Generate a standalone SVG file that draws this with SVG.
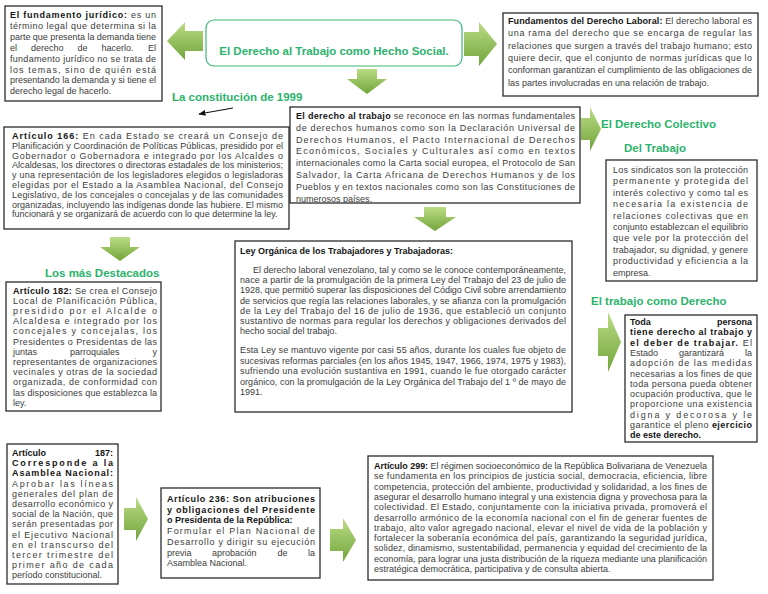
<svg xmlns="http://www.w3.org/2000/svg" width="768" height="594" viewBox="0 0 768 594">
<defs>
<linearGradient id="g" x1="0" y1="0" x2="0" y2="1"><stop offset="0" stop-color="#bcdc86"/><stop offset="1" stop-color="#72a53b"/></linearGradient>
<marker id="ah" viewBox="0 0 10 10" refX="9" refY="5" markerWidth="6" markerHeight="6" orient="auto-start-reverse"><path d="M0,1 L10,5 L0,9 Z" fill="#111"/></marker>
<clipPath id="cD"><rect x="290" y="107" width="290" height="95"/></clipPath>
<style>
.box{fill:#fff;stroke:#2b2b2b;stroke-width:1.3}
.tx{font-family:"Liberation Sans",Arial,sans-serif;font-size:9px;fill:#3c3c3c}
.b{font-weight:bold;fill:#151515}
.hd{font-family:"Liberation Sans",Arial,sans-serif;font-size:11.5px;font-weight:bold;fill:#2cb36c}
.arr{fill:url(#g)}
</style>
</defs>
<rect width="768" height="594" fill="#fff"/>

<g id="connectors">
<path class="arr" d="M203,31 L185,31 L185,22 L167,41 L185,60 L185,51 L203,51 Z"/>
<path class="arr" d="M464,32 L479,32 L479,22 L497,44 L479,66 L479,56 L464,56 Z"/>
<path class="arr" d="M357,69 L377,69 L377,79 L387,79 L367,94 L347,79 L357,79 Z"/>
<path class="arr" d="M581,118 L590,118 L590,107 L601,129 L590,151 L590,140 L581,140 Z"/>
<path class="arr" d="M424,207 L446,207 L446,217 L456,217 L435,231 L414,217 L424,217 Z"/>
<path class="arr" d="M110,237 L130,237 L130,247 L140,247 L120,261 L100,247 L110,247 Z"/>
<path class="arr" d="M598,328 L608,328 L608,312 L621,342 L608,372 L608,356 L598,356 Z"/>
<path class="arr" d="M124,508 L136,508 L136,497 L148,519 L136,541 L136,530 L124,530 Z"/>
<path class="arr" d="M330,529 L343,529 L343,518 L356,540 L343,562 L343,551 L330,551 Z"/>
<line x1="233" y1="108" x2="199" y2="114" stroke="#111" stroke-width="1.2" marker-end="url(#ah)"/>
</g>

<g id="title">
<rect x="206" y="20" width="256" height="46" rx="8" fill="#fff" stroke="#3cb878" stroke-width="1.2"/>
<text class="hd" x="334" y="55" text-anchor="middle" font-size="11.7">El Derecho al Trabajo como Hecho Social.</text>
</g>

<g id="headings">
<text class="hd" x="172" y="101">La constitución de 1999</text>
<text class="hd" x="601" y="128">El Derecho Colectivo</text>
<text class="hd" x="624" y="152">Del Trabajo</text>
<text class="hd" x="45" y="277">Los más Destacados</text>
<text class="hd" x="591" y="305">El trabajo como Derecho</text>
</g>

<g id="n-fundamento" class="tx">
<rect class="box" x="5" y="6" width="157" height="95"/>
<text x="10" y="18" textLength="146" lengthAdjust="spacing"><tspan class="b">El fundamento jurídico:</tspan> es un</text>
<text x="10" y="28.9" textLength="146" lengthAdjust="spacing">término legal que determina si la</text>
<text x="10" y="39.8" textLength="146" lengthAdjust="spacing">parte que presenta la demanda tiene</text>
<text y="50.7"><tspan x="10">el</tspan><tspan x="31">derecho</tspan><tspan x="77.5">de</tspan><tspan x="101.5">hacerlo.</tspan></text>
<text x="156" y="50.7" text-anchor="end">El</text>
<text x="10" y="61.6" textLength="146" lengthAdjust="spacing">fundamento jurídico no se trata de</text>
<text x="10" y="72.5" textLength="146" lengthAdjust="spacing">los temas, sino de quién está</text>
<text x="10" y="83.4" textLength="146" lengthAdjust="spacing">presentando la demanda y si tiene el</text>
<text x="10" y="94.3">derecho legal de hacerlo.</text>
</g>

<g id="n-fundamentos-laboral" class="tx">
<rect class="box" x="503" y="13" width="255" height="83"/>
<text x="508" y="24" textLength="244" lengthAdjust="spacing"><tspan class="b">Fundamentos del Derecho Laboral:</tspan> El derecho laboral es</text>
<text x="508" y="36.3" textLength="244" lengthAdjust="spacing">una rama del derecho que se encarga de regular las</text>
<text x="508" y="48.6" textLength="244" lengthAdjust="spacing">relaciones que surgen a través del trabajo humano; esto</text>
<text x="508" y="60.9" textLength="244" lengthAdjust="spacing">quiere decir, que el conjunto de normas jurídicas que lo</text>
<text x="508" y="73.2" textLength="244" lengthAdjust="spacing">conforman garantizan el cumplimiento de las obligaciones de</text>
<text x="508" y="85.5">las partes involucradas en una relación de trabajo.</text>
</g>

<g id="n-art166" class="tx" font-size="8.7">
<rect class="box" x="4" y="127" width="285" height="102"/>
<text x="12" y="139" textLength="271" lengthAdjust="spacing"><tspan class="b">Artículo 166:</tspan> En cada Estado se creará un Consejo de</text>
<text x="12" y="148.8" textLength="271" lengthAdjust="spacing">Planificación y Coordinación de Políticas Públicas, presidido por el</text>
<text x="12" y="158.6" textLength="271" lengthAdjust="spacing">Gobernador o Gobernadora e integrado por los Alcaldes o</text>
<text x="12" y="168.4" textLength="271" lengthAdjust="spacing">Alcaldesas, los directores o directoras estadales de los ministerios;</text>
<text x="12" y="178.2" textLength="271" lengthAdjust="spacing">y una representación de los legisladores elegidos o legisladoras</text>
<text x="12" y="188" textLength="271" lengthAdjust="spacing">elegidas por el Estado a la Asamblea Nacional, del Consejo</text>
<text x="12" y="197.8" textLength="271" lengthAdjust="spacing">Legislativo, de los concejales o concejalas y de las comunidades</text>
<text x="12" y="207.6" textLength="271" lengthAdjust="spacing">organizadas, incluyendo las indígenas donde las hubiere. El mismo</text>
<text x="12" y="217.4">funcionará y se organizará de acuerdo con lo que determine la ley.</text>
</g>

<g id="n-derecho-trabajo" class="tx">
<rect class="box" x="290" y="107" width="290" height="96"/>
<g clip-path="url(#cD)">
<text x="296" y="119" textLength="279" lengthAdjust="spacing"><tspan class="b">El derecho al trabajo</tspan> se reconoce en las normas fundamentales</text>
<text x="296" y="130.8" textLength="279" lengthAdjust="spacing">de derechos humanos como son la Declaración Universal de</text>
<text x="296" y="142.6" textLength="279" lengthAdjust="spacing">Derechos Humanos, el Pacto Internacional de Derechos</text>
<text x="296" y="154.4" textLength="279" lengthAdjust="spacing">Económicos, Sociales y Culturales así como en textos</text>
<text x="296" y="166.2" textLength="279" lengthAdjust="spacing">internacionales como la Carta social europea, el Protocolo de San</text>
<text x="296" y="178" textLength="279" lengthAdjust="spacing">Salvador, la Carta Africana de Derechos Humanos y de los</text>
<text x="296" y="189.8" textLength="279" lengthAdjust="spacing">Pueblos y en textos nacionales como son las Constituciones de</text>
<text x="296" y="201.6">numerosos países.</text>
</g>
</g>

<g id="n-sindicatos" class="tx">
<rect class="box" x="606" y="160" width="151" height="121"/>
<text x="613" y="173" textLength="135" lengthAdjust="spacing">Los sindicatos son la protección</text>
<text x="613" y="184.4" textLength="135" lengthAdjust="spacing">permanente y protegida del</text>
<text x="613" y="195.8" textLength="135" lengthAdjust="spacing">interés colectivo y como tal es</text>
<text x="613" y="207.2" textLength="135" lengthAdjust="spacing">necesaria la existencia de</text>
<text x="613" y="218.6" textLength="135" lengthAdjust="spacing">relaciones colectivas que en</text>
<text x="613" y="230" textLength="135" lengthAdjust="spacing">conjunto establezcan el equilibrio</text>
<text x="613" y="241.4" textLength="135" lengthAdjust="spacing">que vele por la protección del</text>
<text x="613" y="252.8" textLength="135" lengthAdjust="spacing">trabajador, su dignidad, y genere</text>
<text x="613" y="264.2" textLength="135" lengthAdjust="spacing">productividad y eficiencia a la</text>
<text x="613" y="275.6">empresa.</text>
</g>

<g id="n-art182" class="tx">
<rect class="box" x="6" y="282" width="155" height="129"/>
<text x="13" y="293.5" textLength="144" lengthAdjust="spacing"><tspan class="b">Artículo 182:</tspan> Se crea el Consejo</text>
<text x="13" y="303.7" textLength="144" lengthAdjust="spacing">Local de Planificación Pública,</text>
<text x="13" y="313.9" textLength="144" lengthAdjust="spacing">presidido por el Alcalde o</text>
<text x="13" y="324.1" textLength="144" lengthAdjust="spacing">Alcaldesa e integrado por los</text>
<text x="13" y="334.3" textLength="144" lengthAdjust="spacing">concejales y concejalas, los</text>
<text x="13" y="344.5" textLength="144" lengthAdjust="spacing">Presidentes o Presidentas de las</text>
<text y="354.7"><tspan x="13">juntas</tspan><tspan x="70">parroquiales</tspan></text>
<text x="157" y="354.7" text-anchor="end">y</text>
<text x="13" y="364.9" textLength="144" lengthAdjust="spacing">representantes de organizaciones</text>
<text x="13" y="375.1" textLength="144" lengthAdjust="spacing">vecinales y otras de la sociedad</text>
<text x="13" y="385.3" textLength="144" lengthAdjust="spacing">organizada, de conformidad con</text>
<text x="13" y="395.5" textLength="144" lengthAdjust="spacing">las disposiciones que establezca la</text>
<text x="13" y="405.7">ley.</text>
</g>

<g id="n-ley-organica" class="tx" font-size="8.7">
<rect class="box" x="235" y="241" width="337" height="171"/>
<text class="b" x="240" y="254">Ley Orgánica de los Trabajadores y Trabajadoras:</text>
<text x="253" y="273" textLength="313" lengthAdjust="spacing">El derecho laboral venezolano, tal y como se le conoce contemporáneamente,</text>
<text x="240" y="283.2" textLength="326" lengthAdjust="spacing">nace a partir de la promulgación de la primera Ley del Trabajo del 23 de julio de</text>
<text x="240" y="293.4" textLength="326" lengthAdjust="spacing">1928, que permitió superar las disposiciones del Código Civil sobre arrendamiento</text>
<text x="240" y="303.6" textLength="326" lengthAdjust="spacing">de servicios que regía las relaciones laborales, y se afianza con la promulgación</text>
<text x="240" y="313.8" textLength="326" lengthAdjust="spacing">de la Ley del Trabajo del 16 de julio de 1936, que estableció un conjunto</text>
<text x="240" y="324" textLength="326" lengthAdjust="spacing">sustantivo de normas para regular los derechos y obligaciones derivados del</text>
<text x="240" y="334.2">hecho social del trabajo.</text>
<text x="240" y="353" textLength="326" lengthAdjust="spacing">Esta Ley se mantuvo vigente por casi 55 años, durante los cuales fue objeto de</text>
<text x="240" y="363.5" textLength="326" lengthAdjust="spacing">sucesivas reformas parciales (en los años 1945, 1947, 1966, 1974, 1975 y 1983),</text>
<text x="240" y="374" textLength="326" lengthAdjust="spacing">sufriendo una evolución sustantiva en 1991, cuando le fue otorgado carácter</text>
<text x="240" y="384.5" textLength="326" lengthAdjust="spacing">orgánico, con la promulgación de la Ley Orgánica del Trabajo del 1 º de mayo de</text>
<text x="240" y="395">1991.</text>
</g>

<g id="n-trabajo-derecho" class="tx">
<rect class="box" x="625" y="315" width="132" height="127"/>
<text class="b" x="630" y="325">Toda</text>
<text class="b" x="752" y="325" text-anchor="end">persona</text>
<text class="b" x="630" y="335.3" textLength="122" lengthAdjust="spacing">tiene derecho al trabajo y</text>
<text x="630" y="345.6" textLength="122" lengthAdjust="spacing"><tspan class="b">el deber de trabajar.</tspan> El</text>
<text y="355.9"><tspan x="630">Estado</tspan><tspan x="679">garantizará</tspan></text>
<text x="752" y="355.9" text-anchor="end">la</text>
<text x="630" y="366.2" textLength="122" lengthAdjust="spacing">adopción de las medidas</text>
<text x="630" y="376.5" textLength="122" lengthAdjust="spacing">necesarias a los fines de que</text>
<text x="630" y="386.8" textLength="122" lengthAdjust="spacing">toda persona pueda obtener</text>
<text x="630" y="397.1" textLength="122" lengthAdjust="spacing">ocupación productiva, que le</text>
<text x="630" y="407.4" textLength="122" lengthAdjust="spacing">proporcione una existencia</text>
<text x="630" y="417.7" textLength="122" lengthAdjust="spacing">digna y decorosa y le</text>
<text x="630" y="428" textLength="122" lengthAdjust="spacing">garantice el pleno <tspan class="b">ejercicio</tspan></text>
<text class="b" x="630" y="438.3">de este derecho.</text>
</g>

<g id="n-art187" class="tx">
<rect class="box" x="7" y="444" width="111" height="140"/>
<text class="b" x="12" y="456">Artículo</text>
<text class="b" x="113" y="456" text-anchor="end">187:</text>
<text class="b" x="12" y="466.2" textLength="101" lengthAdjust="spacing">Corresponde a la</text>
<text class="b" x="12" y="476.4" textLength="101" lengthAdjust="spacing">Asamblea Nacional:</text>
<text x="12" y="486.6" textLength="101" lengthAdjust="spacing">Aprobar las líneas</text>
<text x="12" y="496.8" textLength="101" lengthAdjust="spacing">generales del plan de</text>
<text x="12" y="507" textLength="101" lengthAdjust="spacing">desarrollo económico y</text>
<text x="12" y="517.2" textLength="101" lengthAdjust="spacing">social de la Nación, que</text>
<text x="12" y="527.4" textLength="101" lengthAdjust="spacing">serán presentadas por</text>
<text x="12" y="537.6" textLength="101" lengthAdjust="spacing">el Ejecutivo Nacional</text>
<text x="12" y="547.8" textLength="101" lengthAdjust="spacing">en el transcurso del</text>
<text x="12" y="558" textLength="101" lengthAdjust="spacing">tercer trimestre del</text>
<text x="12" y="568.2" textLength="101" lengthAdjust="spacing">primer año de cada</text>
<text x="12" y="578.4">período constitucional.</text>
</g>

<g id="n-art236" class="tx">
<rect class="box" x="161" y="488" width="159" height="90"/>
<text class="b" x="167" y="502" textLength="148" lengthAdjust="spacing">Artículo 236: Son atribuciones</text>
<text class="b" x="167" y="512.7" textLength="148" lengthAdjust="spacing">y obligaciones del Presidente</text>
<text class="b" x="167" y="523.4">o Presidenta de la República:</text>
<text x="167" y="534.1" textLength="148" lengthAdjust="spacing">Formular el Plan Nacional de</text>
<text x="167" y="544.8" textLength="148" lengthAdjust="spacing">Desarrollo y dirigir su ejecución</text>
<text y="555.5"><tspan x="167">previa</tspan><tspan x="212">aprobación</tspan><tspan x="277.5">de</tspan></text>
<text x="315" y="555.5" text-anchor="end">la</text>
<text x="167" y="566.2">Asamblea Nacional.</text>
</g>

<g id="n-art299" class="tx" font-size="8.6">
<rect class="box" x="368" y="456" width="345" height="124"/>
<text x="374" y="469" textLength="333" lengthAdjust="spacing"><tspan class="b">Artículo 299:</tspan> El régimen socioeconómico de la República Bolivariana de Venezuela</text>
<text x="374" y="479.3" textLength="333" lengthAdjust="spacing">se fundamenta en los principios de justicia social, democracia, eficiencia, libre</text>
<text x="374" y="489.6" textLength="333" lengthAdjust="spacing">competencia, protección del ambiente, productividad y solidaridad, a los fines de</text>
<text x="374" y="499.9" textLength="333" lengthAdjust="spacing">asegurar el desarrollo humano integral y una existencia digna y provechosa para la</text>
<text x="374" y="510.2" textLength="333" lengthAdjust="spacing">colectividad. El Estado, conjuntamente con la iniciativa privada, promoverá el</text>
<text x="374" y="520.5" textLength="333" lengthAdjust="spacing">desarrollo armónico de la economía nacional con el fin de generar fuentes de</text>
<text x="374" y="530.8" textLength="333" lengthAdjust="spacing">trabajo, alto valor agregado nacional, elevar el nivel de vida de la población y</text>
<text x="374" y="541.1" textLength="333" lengthAdjust="spacing">fortalecer la soberanía económica del país, garantizando la seguridad jurídica,</text>
<text x="374" y="551.4" textLength="333" lengthAdjust="spacing">solidez, dinamismo, sustentabilidad, permanencia y equidad del crecimiento de la</text>
<text x="374" y="561.7" textLength="333" lengthAdjust="spacing">economía, para lograr una justa distribución de la riqueza mediante una planificación</text>
<text x="374" y="572">estratégica democrática, participativa y de consulta abierta.</text>
</g>
</svg>
